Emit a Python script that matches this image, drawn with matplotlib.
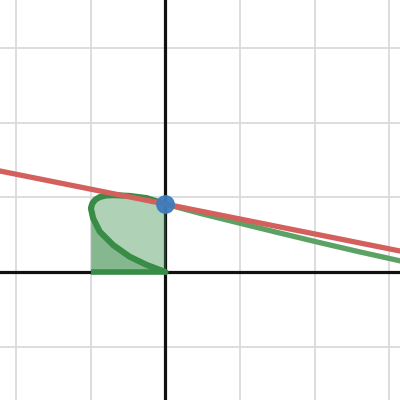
import matplotlib
matplotlib.use("Agg")
import matplotlib.pyplot as plt

# ---- data (graph units) ----
grid_x = [-2, -1, 1, 2, 3]
grid_y = [-1, 1, 2, 3]

red_x = [-2.3, 3.3]
red_y = [1.37, 0.25]

lower_x = [0.0, -0.25, -0.48, -0.70, -0.88, -0.97, -1.0]
lower_y = [0.0, 0.094, 0.205, 0.36, 0.54, 0.72, 0.855]

upper_x = [-1.0, -0.98, -0.94, -0.88, -0.80, -0.70, -0.48, -0.25, 0.0]
upper_y = [0.855, 0.92, 0.97, 1.005, 1.025, 1.03, 1.02, 0.99, 0.91]

right_x = [0.0, 0.46, 0.87, 1.5, 2.07, 2.6, 3.15, 3.3]
right_y = [0.91, 0.787, 0.685, 0.53, 0.393, 0.27, 0.148, 0.115]

base_x = [-1.0, 0.0]
base_y = [0.0, 0.0]

point_x = [0.0]
point_y = [0.91]

fig = plt.figure(figsize=(4, 4), dpi=100)
ax = fig.add_axes([0, 0, 1, 1])
ax.set_xlim(-2.218, 3.143)
ax.set_ylim(-1.716, 3.646)
ax.axis("off")

for gx in grid_x:
    ax.axvline(gx, color="#dadada", lw=1.3, zorder=0)
for gy in grid_y:
    ax.axhline(gy, color="#dadada", lw=1.3, zorder=0)
ax.axvline(0, color="#111111", lw=2.3, zorder=1)
ax.axhline(0, color="#111111", lw=2.3, zorder=1)

green = "#388c46"
ax.fill_between(upper_x, 0, upper_y, color=green, alpha=0.4, lw=0, zorder=2)
ax.fill_between(lower_x, 0, lower_y, color=green, alpha=0.35, lw=0, zorder=2)

ax.plot(right_x, right_y, color="#5ca264", lw=3.8, solid_capstyle="round", zorder=3)
ax.plot(lower_x + upper_x[1:], lower_y + upper_y[1:], color=green,
        lw=4.4, solid_capstyle="round", solid_joinstyle="round", zorder=4)
ax.plot(base_x, base_y, color=green, lw=4.0, solid_capstyle="butt", zorder=4)
ax.plot(red_x, red_y, color="#d3605c", lw=3.8, zorder=5)
ax.plot(point_x, point_y, "o", color="#3d7cbd", ms=12.5, zorder=6, alpha=0.95)

fig.savefig("out.png", dpi=100)
